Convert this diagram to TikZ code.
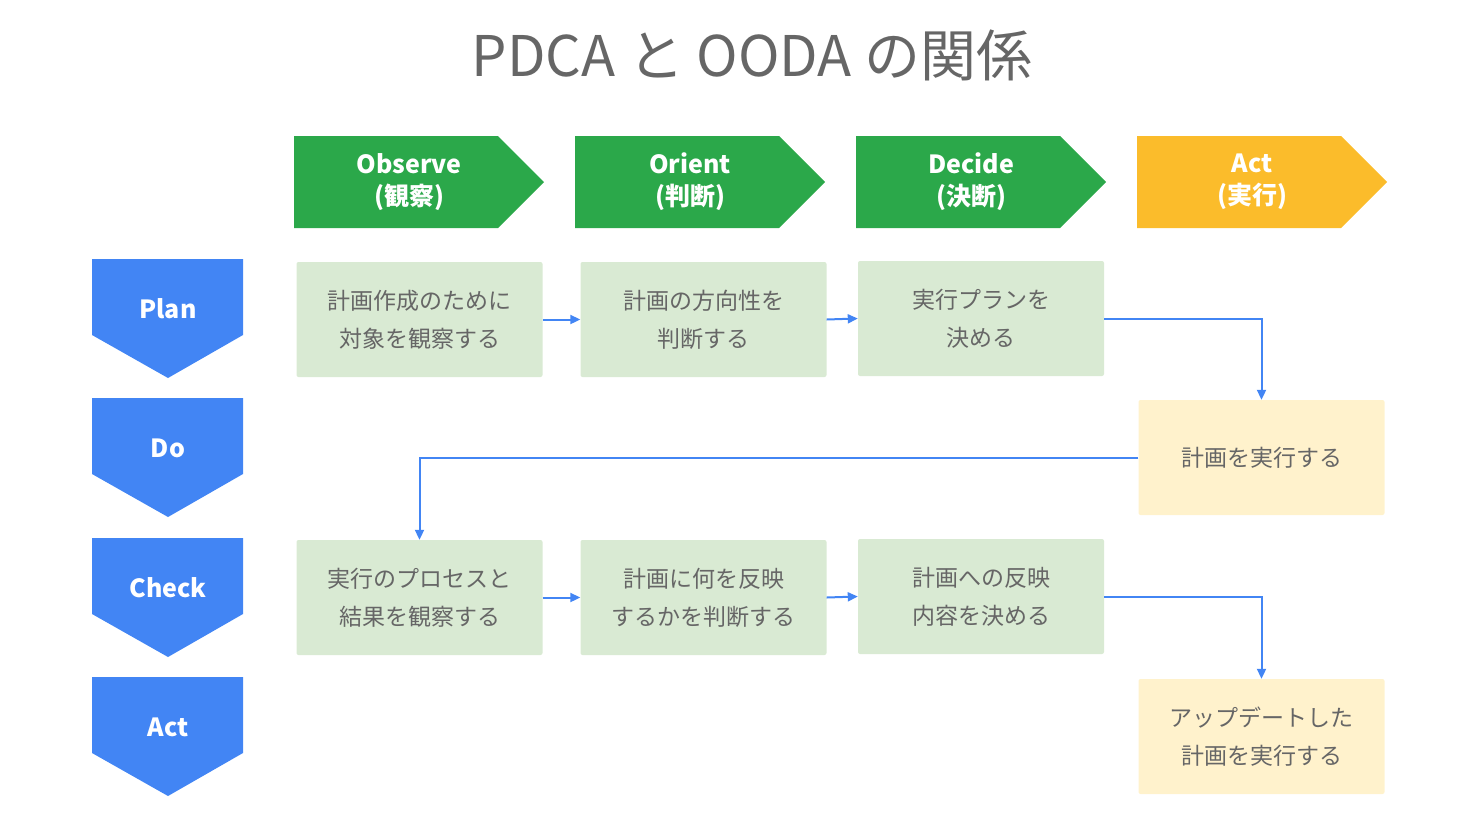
\documentclass[tikz,border=0pt]{standalone}
\usepackage{fontspec}
\setmainfont{Noto Sans CJK JP}
\usetikzlibrary{arrows.meta}
\definecolor{tg}{HTML}{666666}
\definecolor{gr}{HTML}{2BA84A}
\definecolor{ye}{HTML}{FBBC2B}
\definecolor{bl}{HTML}{4285F4}
\definecolor{lg}{HTML}{D9EAD3}
\definecolor{ly}{HTML}{FFF2CC}
\begin{document}
\begin{tikzpicture}[x=1pt,y=-1pt,
  box/.style={fill=#1,rounded corners=2pt,minimum width=246pt,minimum height=115pt,inner sep=0pt,align=center,text=tg,font=\fontsize{23}{38}\selectfont},
  lab/.style={text=white,font=\bfseries\fontsize{25}{32}\selectfont,align=center},
  con/.style={bl,line width=2pt,-{Triangle[length=10pt,width=9pt]}}]
\useasboundingbox (0,0) rectangle (1468,820);
\node[text=tg,font=\fontsize{56}{60}\selectfont] (title) at (752,55) {PDCA と OODA の関係};
% chevrons
\foreach \x/\c/\n/\t in {294/gr/ob/{Observe\\(観察)},575/gr/or/{Orient\\(判断)},856/gr/de/{Decide\\(決断)},1137/ye/ac/{Act\\(実行)}}{
  \fill[\c] (\x,136) -- (\x+204,136) -- (\x+250,182) -- (\x+204,228) -- (\x,228) -- cycle;
  \node[lab] (\n) at (\x+115,182) {\t};
}
% PDCA
\foreach \y/\n/\t in {259/p/Plan,398/d/Do,538/c/Check,677/a/Act}{
  \fill[bl] (92,\y) -- (243,\y) -- (243,\y+76) -- (168,\y+119) -- (92,\y+76) -- cycle;
  \node[lab] (\n) at (168,\y+50) {\t};
}
\node[box=lg] (b1) at (419.5,319.5) {計画作成のために\\対象を観察する};
\node[box=lg] (b2) at (703.5,319.5) {計画の方向性を\\判断する};
\node[box=lg] (b3) at (981,318.5) {実行プランを\\決める};
\node[box=ly] (b4) at (1261.5,457.5) {計画を実行する};
\node[box=lg] (b5) at (419.5,597.5) {実行のプロセスと\\結果を観察する};
\node[box=lg] (b6) at (703.5,597.5) {計画に何を反映\\するかを判断する};
\node[box=lg] (b7) at (981,596.5) {計画への反映\\内容を決める};
\node[box=ly] (b8) at (1261.5,736.5) {アップデートした\\計画を実行する};
\draw[con] (b1.east) -- (b2.west);
\draw[con] (b2.east) -- (b3.west);
\draw[con] (b3.east) -| (b4.north);
\draw[con] (b4.west) -| (b5.north);
\draw[con] (b5.east) -- (b6.west);
\draw[con] (b6.east) -- (b7.west);
\draw[con] (b7.east) -| (b8.north);
\end{tikzpicture}
\end{document}
